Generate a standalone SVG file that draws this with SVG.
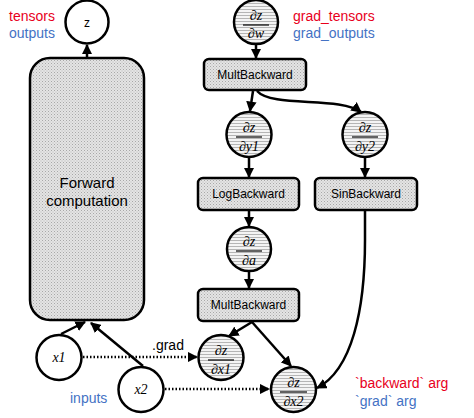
<svg xmlns="http://www.w3.org/2000/svg" width="474" height="418" viewBox="0 0 474 418">
<defs>
<pattern id="dots" width="3" height="3" patternUnits="userSpaceOnUse">
<rect width="3" height="3" fill="#e4e4e4"/>
<rect x="0" y="0" width="1" height="1" fill="#a8a8a8"/>
<rect x="1.5" y="1.5" width="1" height="1" fill="#b8b8b8"/>
</pattern>
<pattern id="hatch" width="4" height="3" patternUnits="userSpaceOnUse">
<rect width="4" height="3" fill="#f4f4f4"/>
<rect x="0" y="0" width="4" height="1" fill="#b5b5b5"/>
</pattern>
<marker id="ah" viewBox="0 0 10 10" refX="9" refY="5" markerWidth="4.2" markerHeight="4.2" orient="auto" markerUnits="strokeWidth">
<path d="M0,0 L10,5 L0,10 z" fill="#000"/>
</marker>
</defs>
<style>
.c{fill:url(#hatch);stroke:#000;stroke-width:2.5}
.b{fill:url(#dots);stroke:#000;stroke-width:2.5}
.w{fill:#fff;stroke:#000;stroke-width:2.5}
.l{fill:none;stroke:#000;stroke-width:2.5;marker-end:url(#ah)}
.d{fill:none;stroke:#000;stroke-width:2.5;stroke-dasharray:1.5 2;marker-end:url(#ah)}
.t{font-family:"Liberation Sans",Arial,sans-serif;font-size:12px;text-anchor:middle;fill:#000}
.big{font-size:15px}
.mid{font-size:14px}
.m{font-family:"Liberation Serif","Times New Roman",serif;font-style:italic;font-size:14px;text-anchor:middle;fill:#000}
.fl{stroke:#000;stroke-width:1.2}
.r{font-family:"Liberation Sans",Arial,sans-serif;font-size:14px;fill:#e8001c}
.bl{font-family:"Liberation Sans",Arial,sans-serif;font-size:14px;fill:#4472c4}
</style>

<g id="connectors">
<line class="l" x1="87" y1="58" x2="87" y2="45"/>
<line class="l" x1="256" y1="45" x2="256" y2="58"/>
<line class="l" x1="253" y1="91" x2="250" y2="111"/>
<path class="l" d="M257,91 C272,108 340,96 361,112"/>
<line class="l" x1="249" y1="157" x2="249" y2="177"/>
<line class="l" x1="365" y1="157" x2="365" y2="177"/>
<line class="l" x1="249" y1="210" x2="249" y2="226"/>
<line class="l" x1="249" y1="271" x2="249" y2="288"/>
<line class="l" x1="252" y1="322" x2="229" y2="336"/>
<line class="l" x1="252" y1="322" x2="291" y2="366"/>
<path class="l" d="M365,210 L365,240 C365,310 352,370 317,388"/>
<line class="l" x1="61" y1="334" x2="85" y2="322"/>
<line class="l" x1="143" y1="366" x2="91" y2="323"/>
<line class="d" x1="83" y1="357" x2="197" y2="357"/>
<line class="d" x1="165" y1="389" x2="269" y2="389"/>
</g>

<g id="z">
<circle class="w" cx="87" cy="22" r="21.5"/>
<text class="t" x="87" y="27">z</text>
</g>

<g id="forward">
<rect class="b" x="30" y="58" width="114" height="262" rx="20"/>
<text class="t big" x="87" y="188">Forward</text>
<text class="t big" x="87" y="206">computation</text>
</g>

<g id="dzdw">
<circle class="c" cx="256" cy="22" r="22"/>
<text class="m" x="256" y="20">∂z</text>
<line class="fl" x1="243" y1="25" x2="269" y2="25"/>
<text class="m" x="256" y="38">∂w</text>
</g>

<g id="mult1">
<rect class="b" x="204" y="59" width="102" height="31" rx="5"/>
<text class="t" x="255" y="79">MultBackward</text>
</g>

<g id="dzdy1">
<circle class="c" cx="249" cy="134.5" r="22.5"/>
<text class="m" x="249" y="132">∂z</text>
<line class="fl" x1="236" y1="137" x2="262" y2="137"/>
<text class="m" x="249" y="151">∂y1</text>
</g>

<g id="dzdy2">
<circle class="c" cx="365" cy="134.5" r="22.5"/>
<text class="m" x="365" y="132">∂z</text>
<line class="fl" x1="352" y1="137" x2="378" y2="137"/>
<text class="m" x="365" y="151">∂y2</text>
</g>

<g id="log">
<rect class="b" x="198" y="178" width="101" height="32" rx="5"/>
<text class="t" x="248.5" y="198">LogBackward</text>
</g>

<g id="sin">
<rect class="b" x="315" y="178" width="102" height="32" rx="5"/>
<text class="t" x="366" y="198">SinBackward</text>
</g>

<g id="dzda">
<circle class="c" cx="249" cy="249" r="22"/>
<text class="m" x="249" y="246">∂z</text>
<line class="fl" x1="236" y1="251" x2="262" y2="251"/>
<text class="m" x="249" y="265">∂a</text>
</g>

<g id="mult2">
<rect class="b" x="198" y="289" width="101" height="32" rx="5"/>
<text class="t" x="248.5" y="309">MultBackward</text>
</g>

<g id="dzdx1">
<circle class="c" cx="221" cy="357.5" r="22.5"/>
<text class="m" x="221" y="355">∂z</text>
<line class="fl" x1="208" y1="360" x2="234" y2="360"/>
<text class="m" x="221" y="374">∂x1</text>
</g>

<g id="dzdx2">
<circle class="c" cx="293.5" cy="389.5" r="22.5"/>
<text class="m" x="293.5" y="387">∂z</text>
<line class="fl" x1="280" y1="392" x2="307" y2="392"/>
<text class="m" x="293.5" y="406">∂x2</text>
</g>

<g id="x1">
<circle class="w" cx="59" cy="357.5" r="22.5"/>
<text class="m" x="59" y="362">x1</text>
</g>

<g id="x2">
<circle class="w" cx="141" cy="389.5" r="22.5"/>
<text class="m" x="141" y="394">x2</text>
</g>

<g id="labels">
<text class="r" x="9" y="21">tensors</text>
<text class="bl" x="9" y="38">outputs</text>
<text class="r" x="293" y="21">grad_tensors</text>
<text class="bl" x="293" y="38">grad_outputs</text>
<text class="t mid" x="168" y="350">.grad</text>
<text class="bl" x="70" y="403">inputs</text>
<text class="r" x="355" y="388">`backward` arg</text>
<text class="bl" x="355" y="406">`grad` arg</text>
</g>
</svg>
